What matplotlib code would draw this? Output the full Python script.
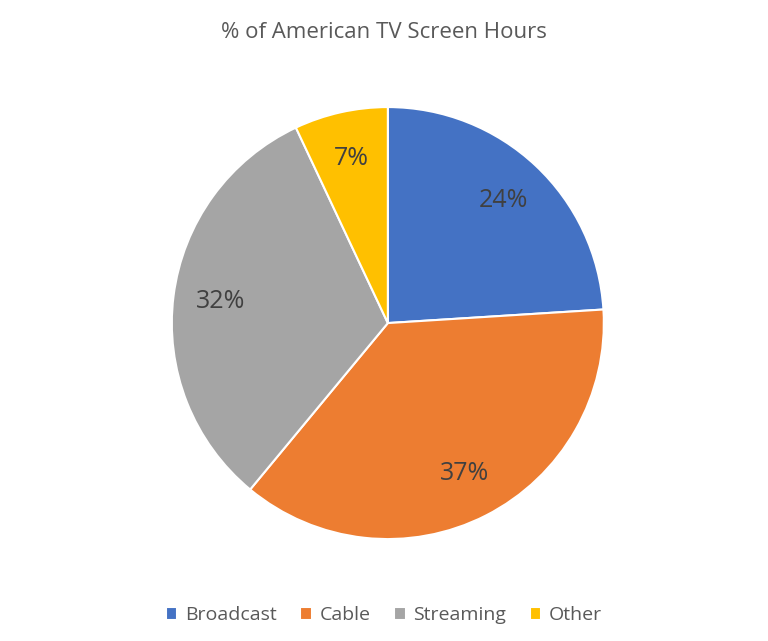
import matplotlib
matplotlib.use("Agg")
import matplotlib.pyplot as plt

categories = ["Broadcast", "Cable", "Streaming", "Other"]
values = [24, 37, 32, 7]
colors = ["#4472C4", "#ED7D31", "#A5A5A5", "#FFC000"]

plt.rcParams['font.family'] = ['Open Sans', 'DejaVu Sans']
fig = plt.figure(figsize=(7.68, 6.41), dpi=100)
ax = fig.add_axes([0.505 - 0.28125, 0.496 - 0.337, 0.5625, 0.674])
wedges, texts, autotexts = ax.pie(values, colors=colors, startangle=90, counterclock=False,
       autopct='%d%%', pctdistance=0.78,
       wedgeprops=dict(edgecolor='white', linewidth=1.5),
       textprops=dict(color='#404040', fontsize=18))
ax.set_xlim(-1, 1); ax.set_ylim(-1, 1)
fig.text(0.5, 0.95, "% of American TV Screen Hours", ha='center', va='center', fontsize=16, color='#595959')
fig.legend(wedges, categories, loc='center', bbox_to_anchor=(0.5, 0.04), ncol=4, frameon=False,
           fontsize=14, handlelength=0.6, handleheight=0.6, columnspacing=1.2, handletextpad=0.4,
           labelcolor='#595959')
fig.savefig("out.png", dpi=100)
